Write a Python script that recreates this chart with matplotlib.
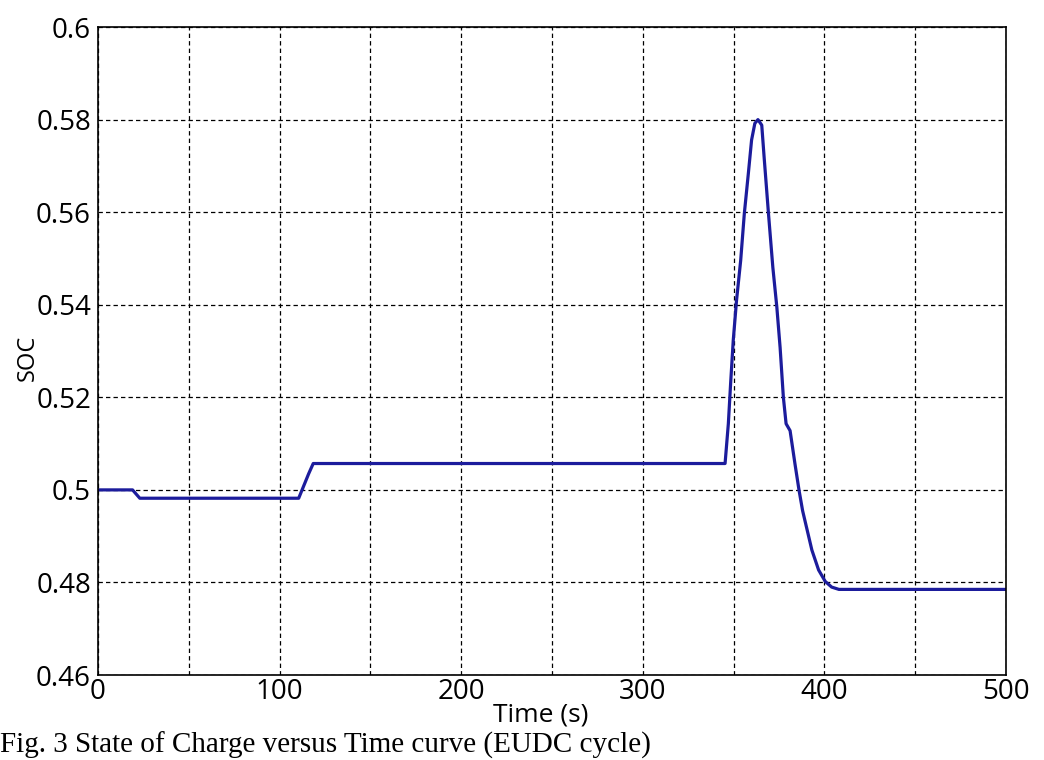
import matplotlib
matplotlib.use("Agg")
import matplotlib.pyplot as plt
import numpy as np

# SOC curve (time in s, SOC)
time = [0, 19, 23, 110.5, 116, 118.5, 345.3, 347.1, 348.4, 349.8, 351.6, 353.9,
        355.9, 358.1, 359.9, 361.7, 363.4, 365.5, 366.8, 369.2, 371.6, 373.8,
        375.6, 377.4, 378.9, 381.1, 383.8, 386.0, 388.0, 390.4, 393.1, 396.8,
        400.5, 404.0, 408.0, 500]
soc = [0.5, 0.5, 0.4982, 0.4982, 0.5035, 0.5057, 0.5057, 0.5143, 0.5233, 0.5323,
       0.5409, 0.5496, 0.5597, 0.5683, 0.5756, 0.5792, 0.5800, 0.5788, 0.5719,
       0.5597, 0.5481, 0.5395, 0.5308, 0.5200, 0.5143, 0.5128, 0.5056, 0.5000,
       0.4955, 0.4915, 0.4870, 0.4827, 0.4802, 0.4790, 0.4785, 0.4785]

xticks = [0, 100, 200, 300, 400, 500]
yticks = [0.46, 0.48, 0.5, 0.52, 0.54, 0.56, 0.58, 0.6]
ytick_labels = ["0.46", "0.48", "0.5", "0.52", "0.54", "0.56", "0.58", "0.6"]
caption = "Fig. 3 State of Charge versus Time curve (EUDC cycle)"

fig = plt.figure(figsize=(10.44, 7.6), dpi=100)
ax = fig.add_axes([0.0939, 0.1118, 0.8697, 0.8526])

ax.plot(time, soc, color="#1c1c9c", lw=2.3)

ax.set_xlim(0, 500)
ax.set_ylim(0.46, 0.6)
# grid every 50 s, labels every 100 s
ax.set_xticks(np.arange(0, 501, 50))
ax.set_xticklabels([str(t) if t in xticks else "" for t in range(0, 501, 50)])
ax.set_yticks(yticks)
ax.set_yticklabels(ytick_labels)
ax.tick_params(length=0, labelsize=20)
ax.tick_params(axis="y", pad=5)
ax.tick_params(axis="x", pad=2)
for lbl in ax.get_xticklabels() + ax.get_yticklabels():
    lbl.set_family("Open Sans")

ax.grid(True, color="black", ls=(0, (3.5, 2.5)), lw=0.9)
for s in ax.spines.values():
    s.set_linewidth(1.2)

ax.set_xlabel("Time (s)", fontsize=19, family="Open Sans", va="center")
ax.xaxis.set_label_coords(0.487, -0.061)
ax.set_ylabel("SOC", fontsize=17, family="Open Sans", va="center")
ax.yaxis.set_label_coords(-0.077, 0.49)

fig.text(0.0, 0.001, caption, fontsize=21, family="Liberation Serif",
         ha="left", va="bottom")

fig.savefig("out.png", dpi=100)
